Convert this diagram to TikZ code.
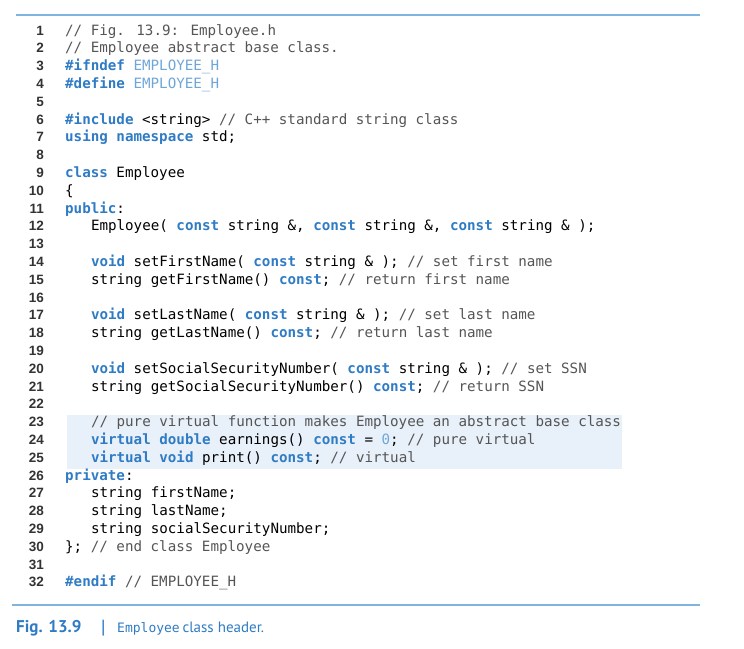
\documentclass[tikz,border=0pt]{standalone}
\usepackage{fontspec}
\setmainfont{Liberation Sans}
\newfontfamily\codefont{DejaVu Sans Mono}
\newfontfamily\capfont{PT Sans}
\definecolor{kwblue}{HTML}{2F7BC4}
\definecolor{litblue}{HTML}{6FA6D8}
\definecolor{cmtgray}{HTML}{555555}
\definecolor{numgray}{HTML}{333333}
\definecolor{rule}{HTML}{7FB3E0}
\definecolor{hl}{HTML}{E8F0F9}
\newcommand{\kw}[1]{\textcolor{kwblue}{\bfseries #1}}
\newcommand{\lt}[1]{\textcolor{litblue}{#1}}
\newcommand{\cm}[1]{\textcolor{cmtgray}{#1}}
\newcommand{\cl}[3]{%
  \node[numstyle] (n#1) at (44,{-35-(#1-1)*17.8}) {#1};
  \node[codestyle] (c#1) at ({65+#2*8.6},{-35-(#1-1)*17.8}) {#3};}
\tikzset{
  numstyle/.style={anchor=base east,inner sep=0pt,font=\fontsize{13.5}{15}\selectfont\bfseries,text=numgray},
  codestyle/.style={anchor=base west,inner sep=0pt,font=\codefont\fontsize{14.2}{16}\selectfont}
}
\begin{document}
\begin{tikzpicture}[x=1pt,y=1pt]
\useasboundingbox (0,0) rectangle (744,-648);
\fill[hl] (67,-415) rectangle (622,-469);
\draw[rule,line width=1.2pt] (16,-15) -- (700,-15);
\draw[rule,line width=1.2pt] (12,-605) -- (700,-605);
\cl{1}{0}{\cm{// Fig. 13.9: Employee.h}}
\cl{2}{0}{\cm{// Employee abstract base class.}}
\cl{3}{0}{\kw{\#ifndef} \lt{EMPLOYEE\_H}}
\cl{4}{0}{\kw{\#define} \lt{EMPLOYEE\_H}}
\cl{5}{0}{}
\cl{6}{0}{\kw{\#include} <string> \cm{// C++ standard string class}}
\cl{7}{0}{\kw{using} \kw{namespace} std;}
\cl{8}{0}{}
\cl{9}{0}{\kw{class} Employee}
\cl{10}{0}{\{}
\cl{11}{0}{\kw{public}:}
\cl{12}{3}{Employee( \kw{const} string \&, \kw{const} string \&, \kw{const} string \& );}
\cl{13}{0}{}
\cl{14}{3}{\kw{void} setFirstName( \kw{const} string \& ); \cm{// set first name}}
\cl{15}{3}{string getFirstName() \kw{const}; \cm{// return first name}}
\cl{16}{0}{}
\cl{17}{3}{\kw{void} setLastName( \kw{const} string \& ); \cm{// set last name}}
\cl{18}{3}{string getLastName() \kw{const}; \cm{// return last name}}
\cl{19}{0}{}
\cl{20}{3}{\kw{void} setSocialSecurityNumber( \kw{const} string \& ); \cm{// set SSN}}
\cl{21}{3}{string getSocialSecurityNumber() \kw{const}; \cm{// return SSN}}
\cl{22}{0}{}
\cl{23}{3}{\cm{// pure virtual function makes Employee an abstract base class}}
\cl{24}{3}{\kw{virtual} \kw{double} earnings() \kw{const} = \lt{0}; \cm{// pure virtual}}
\cl{25}{3}{\kw{virtual} \kw{void} print() \kw{const}; \cm{// virtual}}
\cl{26}{0}{\kw{private}:}
\cl{27}{3}{string firstName;}
\cl{28}{3}{string lastName;}
\cl{29}{3}{string socialSecurityNumber;}
\cl{30}{0}{\}; \cm{// end class Employee}}
\cl{31}{0}{}
\cl{32}{0}{\kw{\#endif} \cm{// EMPLOYEE\_H}}
\node[anchor=base west,inner sep=0pt,font=\capfont\fontsize{17}{19}\selectfont\bfseries,text=kwblue] (fig) at (16,-632) {Fig. 13.9};
\node[anchor=base west,inner sep=0pt,font=\fontsize{17}{19}\selectfont,text=kwblue] (bar) at (101,-632) {|};
\node[anchor=base west,inner sep=0pt,text=kwblue] (cap) at (117,-632) {{\codefont\fontsize{13}{15}\selectfont Employee} {\capfont\fontsize{15}{17}\selectfont class header.}};
\end{tikzpicture}
\end{document}
